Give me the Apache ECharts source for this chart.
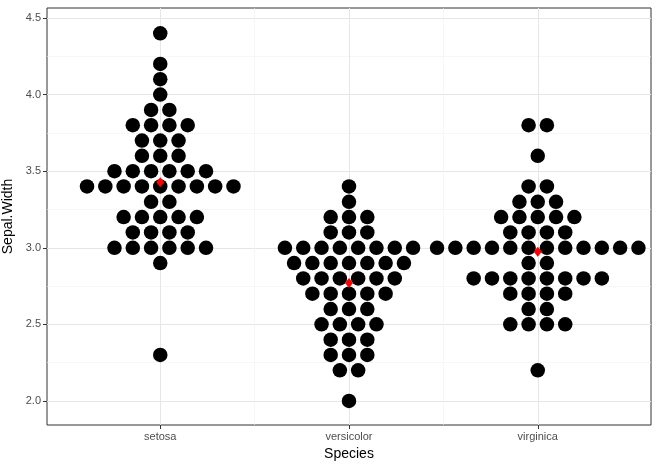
<!DOCTYPE html>
<html><head><meta charset="utf-8">
<script src="https://cdn.jsdelivr.net/npm/echarts@6/dist/echarts.min.js"></script>
<style>html,body{margin:0;padding:0;background:#fff}#c{width:665px;height:471px}</style>
</head><body><div id="c"></div>
<script>
const categories = ['setosa','versicolor','virginica'];
const setosaVals   = [2.3,2.9,3.0,3.1,3.2,3.3,3.4,3.5,3.6,3.7,3.8,3.9,4.0,4.1,4.2,4.4];
const setosaCnt    = [1,1,6,4,5,2,9,6,3,3,4,2,1,1,1,1];
const versiVals    = [2.0,2.2,2.3,2.4,2.5,2.6,2.7,2.8,2.9,3.0,3.1,3.2,3.3,3.4];
const versiCnt     = [1,2,3,3,4,3,5,6,7,8,3,3,1,1];
const virgVals     = [2.2,2.5,2.6,2.7,2.8,2.9,3.0,3.1,3.2,3.3,3.4,3.6,3.8];
const virgCnt      = [1,4,2,4,8,2,12,4,5,3,2,1,2];
const means        = [3.428,2.770,2.974];
const yTicks       = [2.0,2.5,3.0,3.5,4.0,4.5];
const yMinor       = [2.25,2.75,3.25,3.75,4.25];

const step = 0.097;
const dots = [];
[[setosaVals,setosaCnt],[versiVals,versiCnt],[virgVals,virgCnt]].forEach(([v,c],k)=>{
  v.forEach((y,j)=>{const n=c[j];for(let i=0;i<n;i++)dots.push([k+1+(i-(n-1)/2)*step,y]);});
});
const meanPts = means.map((m,k)=>[k+1,m]);
const lab = {color:'#4d4d4d',fontSize:11,fontFamily:'Liberation Sans'};
const chart = echarts.init(document.getElementById('c'));
chart.setOption({
  animation:false,
  grid:{left:47,right:14,top:8,bottom:46,containLabel:false,outerBoundsMode:'none',show:true,borderColor:'#333',borderWidth:1},
  xAxis:{type:'value',min:0.4,max:3.6,splitLine:{show:false},
    axisLine:{show:false},
    axisTick:{show:true,customValues:[1,2,3],length:4,lineStyle:{color:'#333'}},
    axisLabel:Object.assign({customValues:[1,2,3],formatter:v=>categories[Math.round(v)-1],margin:6},lab),
    name:'Species',nameLocation:'middle',nameGap:22,nameTextStyle:{fontSize:14,color:'#000',fontFamily:'Liberation Sans'}},
  yAxis:{type:'value',min:1.843,max:4.565,splitLine:{show:false},
    axisLine:{show:false},
    axisTick:{show:true,customValues:yTicks,length:4,lineStyle:{color:'#333'}},
    axisLabel:Object.assign({customValues:yTicks,formatter:v=>v.toFixed(1),margin:6},lab),
    name:'Sepal.Width',nameLocation:'middle',nameGap:30,nameTextStyle:{fontSize:14,color:'#000',fontFamily:'Liberation Sans'}},
  series:[
    {type:'scatter',data:[],silent:true,z:0,
     markLine:{silent:true,z:0,symbol:'none',label:{show:false},animation:false,
       data:[...yMinor.map(v=>({yAxis:v,lineStyle:{color:'#f2f2f2',width:0.6,type:'solid'}})),
             ...yTicks.map(v=>({yAxis:v,lineStyle:{color:'#e6e6e6',width:1,type:'solid'}})),
             ...[1.5,2.5].map(v=>({xAxis:v,lineStyle:{color:'#f2f2f2',width:0.6,type:'solid'}})),
             ...[1,2,3].map(v=>({xAxis:v,lineStyle:{color:'#e6e6e6',width:1,type:'solid'}}))]}},
    {type:'scatter',data:dots,symbolSize:14.5,itemStyle:{color:'#000',opacity:1},z:5},
    {type:'scatter',data:meanPts,symbol:'diamond',symbolSize:[8,10],itemStyle:{color:'#ff0000',opacity:1},z:10}
  ]
});
</script></body></html>
